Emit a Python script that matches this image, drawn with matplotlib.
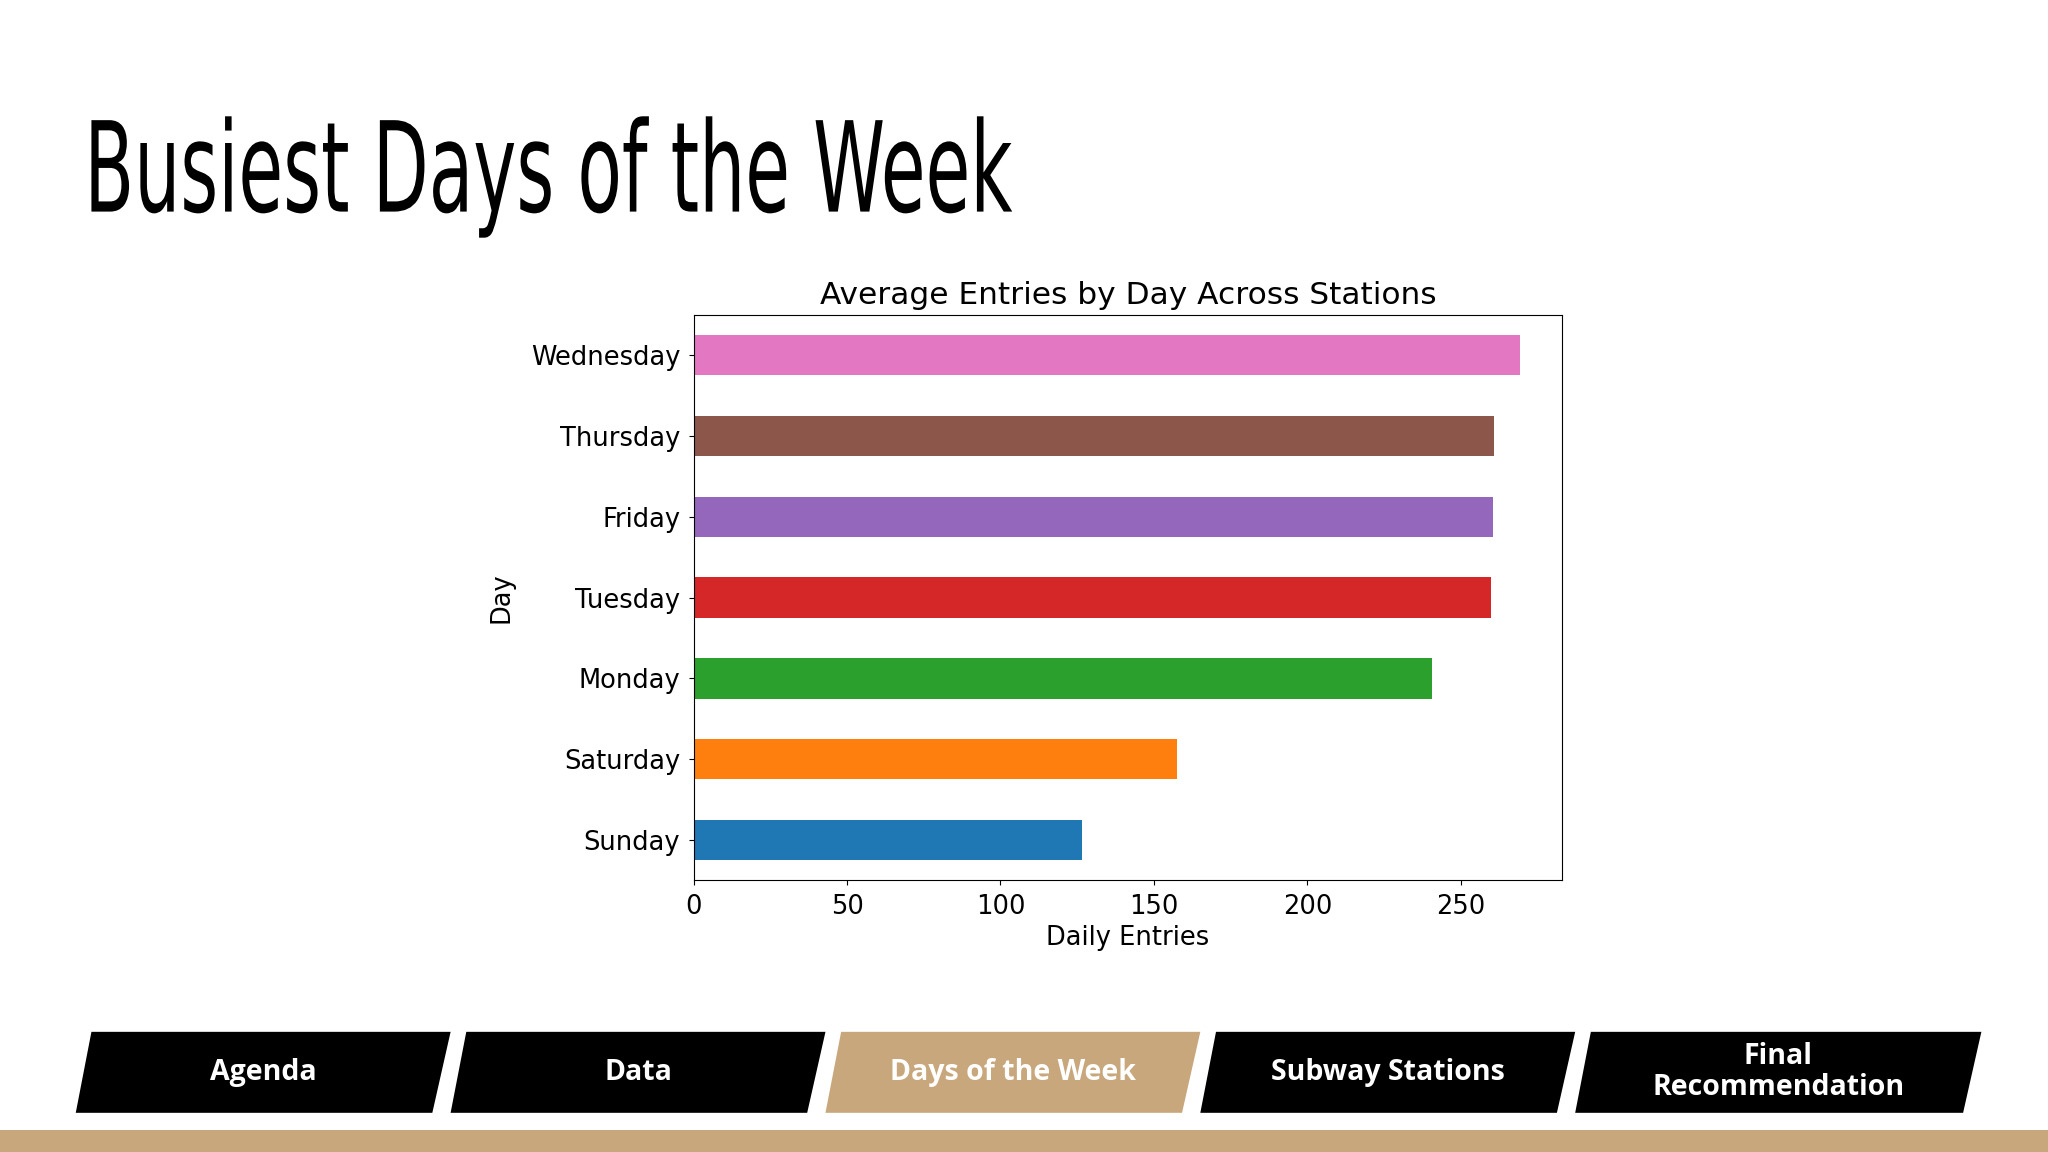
import matplotlib
matplotlib.use("Agg")
import matplotlib.pyplot as plt
from matplotlib.patches import Polygon, Rectangle, PathPatch
from matplotlib.textpath import TextPath
from matplotlib.font_manager import FontProperties
from matplotlib.transforms import Affine2D

days = ["Sunday", "Saturday", "Monday", "Tuesday", "Friday", "Thursday", "Wednesday"]
entries = [126.5, 157.6, 240.5, 259.8, 260.6, 260.8, 269.3]
colors = ["#1f77b4", "#ff7f0e", "#2ca02c", "#d62728", "#9467bd", "#8c564b", "#e377c2"]
xticks = [0, 50, 100, 150, 200, 250]
nav_labels = ["Agenda", "Data", "Days of the Week", "Subway Stations", "Final\nRecommendation"]
active = 2
title = "Busiest Days of the Week"

W, H = 1568, 882
fig = plt.figure(figsize=(20.48, 11.52), dpi=100)
fig.patch.set_facecolor("white")

def fx(x): return x / W
def fy(y): return 1 - y / H

# Condensed title via scaled text path
tp = TextPath((0, 0), title, size=100, prop=FontProperties(family="DejaVu Sans"))
ext = tp.get_extents()
sx = (fx(775) - fx(70)) / (ext.x1 - ext.x0)
sy = (70 / H) / 72.9
tr = Affine2D().translate(-ext.x0, 0).scale(sx, sy).translate(fx(70), fy(162)) + fig.transFigure
fig.patches.append(PathPatch(tp, transform=tr, facecolor="black", edgecolor="none", lw=0))

ax = fig.add_axes([fx(531), fy(674), fx(1196) - fx(531), fy(241) - fy(674)])
ax.barh(range(len(days)), entries, height=0.5, color=colors)
ax.set_yticks(range(len(days)))
ax.set_yticklabels(days, fontsize=18.5)
ax.set_xticks(xticks)
ax.tick_params(axis="x", labelsize=18.5, pad=6)
ax.tick_params(axis="y", pad=6)
ax.set_xlim(0, 283)
ax.set_ylim(-0.5, 6.5)
ax.set_xlabel("Daily Entries", fontsize=18.5, labelpad=4)
ax.set_ylabel("Day", fontsize=18.5, labelpad=12)
ax.set_title("Average Entries by Day Across Stations", fontsize=22.5, pad=8)

tan = "#C9A77C"
for i, lab in enumerate(nav_labels):
    x0 = 70 + i * 287
    w = 275 if i < 4 else 299
    pts = [(fx(x0), fy(790)), (fx(x0 + w), fy(790)), (fx(x0 + w - 14), fy(852)), (fx(x0 - 12), fy(852))]
    fig.patches.append(Polygon(pts, closed=True, transform=fig.transFigure,
                               facecolor=tan if i == active else "black", edgecolor="none"))
    fig.text(fx(x0 + (w - 12) / 2), fy(821), lab, color="white", fontsize=20.5, fontweight="bold",
             ha="center", va="center", family=["Open Sans", "DejaVu Sans"], linespacing=1.1)

fig.patches.append(Rectangle((0, 0), 1, fy(865), transform=fig.transFigure,
                             facecolor=tan, edgecolor="none"))

fig.savefig("out.png", dpi=100)
